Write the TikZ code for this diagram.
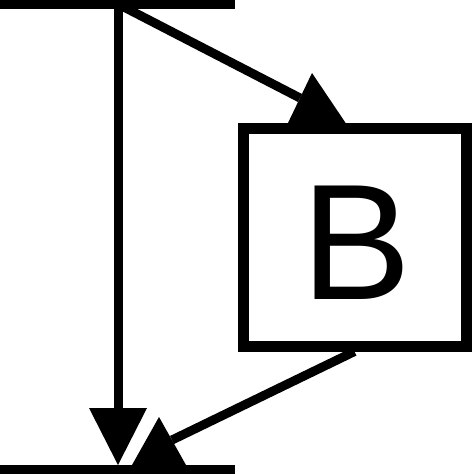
\documentclass[tikz,border=0pt]{standalone}
\usepackage{fontspec}
\setmainfont{Liberation Sans}
\usetikzlibrary{positioning}
\tikzset{>=latex}
\tikzset{wire/.style={line width=9pt}, head/.style={fill=black},
  block/.style={draw, line width=11pt, inner sep=0pt, minimum width=223pt, minimum height=218pt}}

\begin{document}
\begin{tikzpicture}[x=1pt,y=-1pt]
      \useasboundingbox (0,0) rectangle (474,474);
      % rails
      \coordinate (tl) at (0,4);
      \coordinate (tr) at (235,4);
      \coordinate (bl) at (0,469);
      \coordinate (br) at (235,469);
      \draw[wire] (tl) -- (tr);
      \draw[wire] (bl) -- (br);

      % block
      \node[block] (B) at (354.5,237) {};
      \node[inner sep=0pt] (Blabel) at ([shift={(2,6)}]B.center) {\fontsize{165}{165}\selectfont B};

      % connectors
      \coordinate (src) at (118,4);
      \coordinate (Bin) at (300,98);
      \coordinate (down) at (118,412);
      \coordinate (Bout) at (172,440);
	  \draw[wire] (src) -- (Bin);
	  \draw[wire] (src) -- (down);
	  \draw[wire] (B.south) -- (Bout);

      % heads
      \fill[head] (312,73) -- (347,125) -- (287,125) -- cycle;
      \fill[head] (118,465) -- (89,408) -- (147,408) -- cycle;
      \fill[head] (159,417) -- (186,465) -- (132,465) -- cycle;
\end{tikzpicture}
\end{document}
